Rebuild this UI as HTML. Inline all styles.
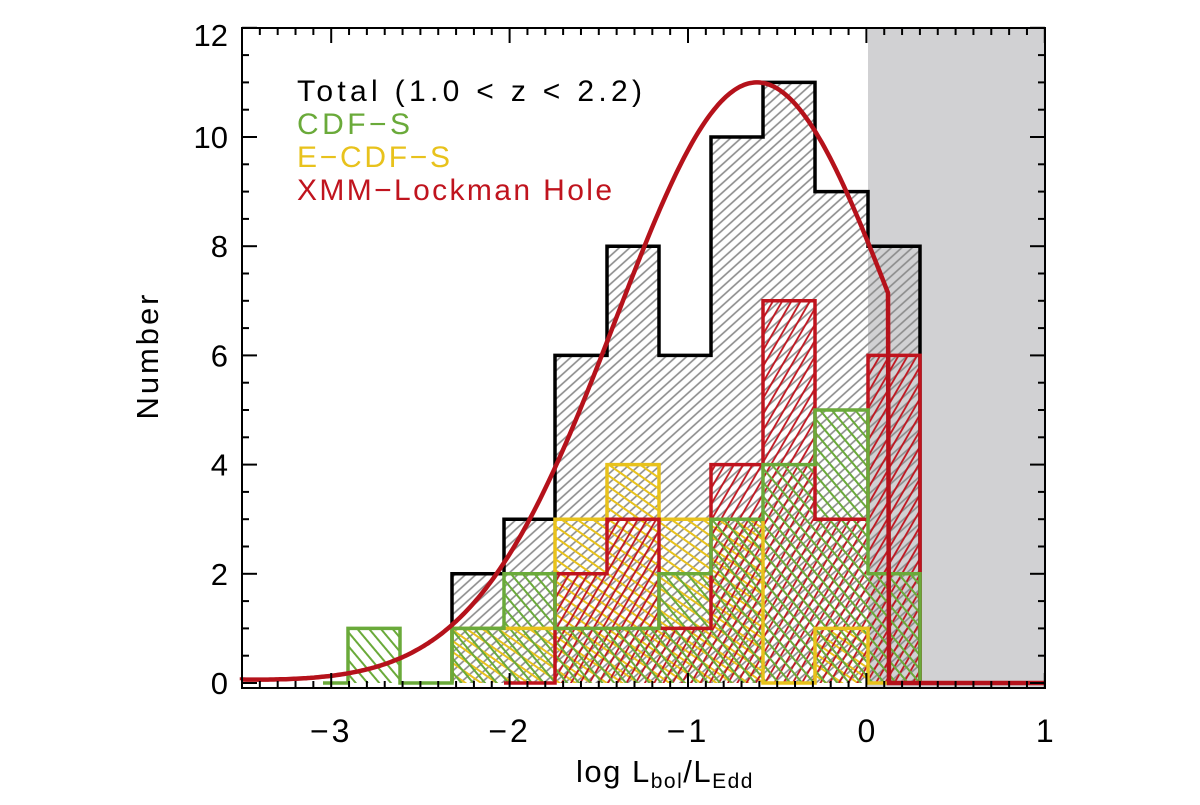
<!DOCTYPE html>
<html><head><meta charset="utf-8"><style>
html,body{margin:0;padding:0;background:#fff;}
svg text{font-family:"Liberation Sans",sans-serif;}
</style></head><body>
<svg id="s" width="1200" height="800" xmlns="http://www.w3.org/2000/svg">
<defs>
<pattern id="pk" patternUnits="userSpaceOnUse" width="7" height="7" patternTransform="rotate(-42)"><line x1="0" y1="3.5" x2="7" y2="3.5" stroke="#8a8a8a" stroke-width="1.6"/></pattern>
<pattern id="pg" patternUnits="userSpaceOnUse" width="9" height="9" patternTransform="rotate(50)"><line x1="0" y1="4.5" x2="9" y2="4.5" stroke="#6aaa3a" stroke-width="2"/></pattern>
<pattern id="py" patternUnits="userSpaceOnUse" width="9" height="9" patternTransform="rotate(35)"><line x1="0" y1="4.5" x2="9" y2="4.5" stroke="#e8c21c" stroke-width="2"/></pattern>
<pattern id="pr" patternUnits="userSpaceOnUse" width="8" height="8" patternTransform="rotate(-60)"><line x1="0" y1="4" x2="8" y2="4" stroke="#c0141e" stroke-width="1.8"/></pattern>
</defs>
<rect x="868" y="28" width="177" height="660" fill="#d1d1d3"/>
<g id="h"></g>
<g id="ax"></g>
<text x="297" y="101" font-size="30" fill="#000" textLength="345" lengthAdjust="spacing">Total (1.0 &lt; z &lt; 2.2)</text>
<text x="297" y="134" font-size="30" fill="#6aaa3a" textLength="113" lengthAdjust="spacing">CDF−S</text>
<text x="297" y="167" font-size="30" fill="#e8c21c" textLength="153" lengthAdjust="spacing">E−CDF−S</text>
<text x="297" y="200" font-size="30" fill="#c0141e" textLength="315" lengthAdjust="spacing">XMM−Lockman Hole</text>
<text transform="translate(158,357) rotate(-90)" font-size="31" text-anchor="middle" textLength="125" lengthAdjust="spacing">Number</text>
<text x="665" y="782" font-size="31" text-anchor="middle" letter-spacing="1.5">log L<tspan font-size="21" dy="6">bol</tspan><tspan dy="-6">/L</tspan><tspan font-size="21" dy="6">Edd</tspan></text>
</svg>
<script>
const E=[348,400,452,504,555,607,659,711,763,815,868,920];
const Y=n=>683-54.6*n;
const S={
 k:[1,0,2,3,6,8,6,10,11,9,8],
 g:[1,0,1,2,1,1,2,3,4,5,2],
 y:[0,0,1,1,3,4,3,3,0,1,0],
 r:[0,0,0,0,2,3,1,4,7,3,6]};
let h='';
function hist(v,fill,col,sw,from){
 let d='M'+E[from]+','+Y(0);
 for(let i=from;i<v.length;i++){d+=' L'+E[i]+','+Y(v[i])+' L'+E[i+1]+','+Y(v[i]);}
 d+=' L'+E[v.length]+','+Y(0);
 h+=`<path d="${d} Z" fill="url(#${fill})" stroke="none"/>`;
 return `<path d="${d}" fill="none" stroke="${col}" stroke-width="${sw}" stroke-linejoin="miter"/>`;}
let o='';
o+=hist(S.k,'pk','#000',3.5,2);
o+=hist(S.y,'py','#e8c21c',3.5,2);
o+=hist(S.r,'pr','#c0141e',3.5,3);
o+=hist(S.g,'pg','#6aaa3a',3.5,0);
o+=`<path d="M323,683 L348,683" stroke="#6aaa3a" stroke-width="3.5"/>`;
let c='M242,'+Y(0.05);
for(let x=242;x<=889;x+=2){const s=141;const v=11*Math.exp(-Math.pow((x-757)/s,2)/2)+0.05*Math.exp(-(x-242)/80);c+=' L'+x+','+Y(v).toFixed(1);}
c+=' L889,683 L1045,683';
o+=`<path d="${c}" fill="none" stroke="#b5121b" stroke-width="4.5"/>`;
document.getElementById('h').innerHTML=h+o;
let a='<rect x="242" y="28" width="803" height="660" fill="none" stroke="#000" stroke-width="2"/>';
const X=v=>242+(v+3.5)*178.4;
for(let k=-35;k<=10;k++){const v=k/10,x=X(v);const maj=k%10==0;const L=maj?15:7;
 a+=`<line x1="${x}" y1="688" x2="${x}" y2="${688-L}" stroke="#000" stroke-width="2"/><line x1="${x}" y1="28" x2="${x}" y2="${28+L}" stroke="#000" stroke-width="2"/>`;
 if(maj){if(v<0)a+=`<text x="${x}" y="742" font-size="32" text-anchor="middle" letter-spacing="3">−${-v}</text>`;else a+=`<text x="${x}" y="742" font-size="32" text-anchor="middle">${v}</text>`;}}
for(let k=0;k<=24;k++){const n=k/2,y=Y(n);const maj=k%4==0;const L=maj?15:7;
 a+=`<line x1="242" y1="${y}" x2="${242+L}" y2="${y}" stroke="#000" stroke-width="2"/><line x1="1045" y1="${y}" x2="${1045-L}" y2="${y}" stroke="#000" stroke-width="2"/>`;
 if(maj)a+=`<text x="228" y="${y+(n==12?18:11)}" font-size="31" text-anchor="end">${n}</text>`;}
document.getElementById('ax').innerHTML=a;
</script>
</body></html>
